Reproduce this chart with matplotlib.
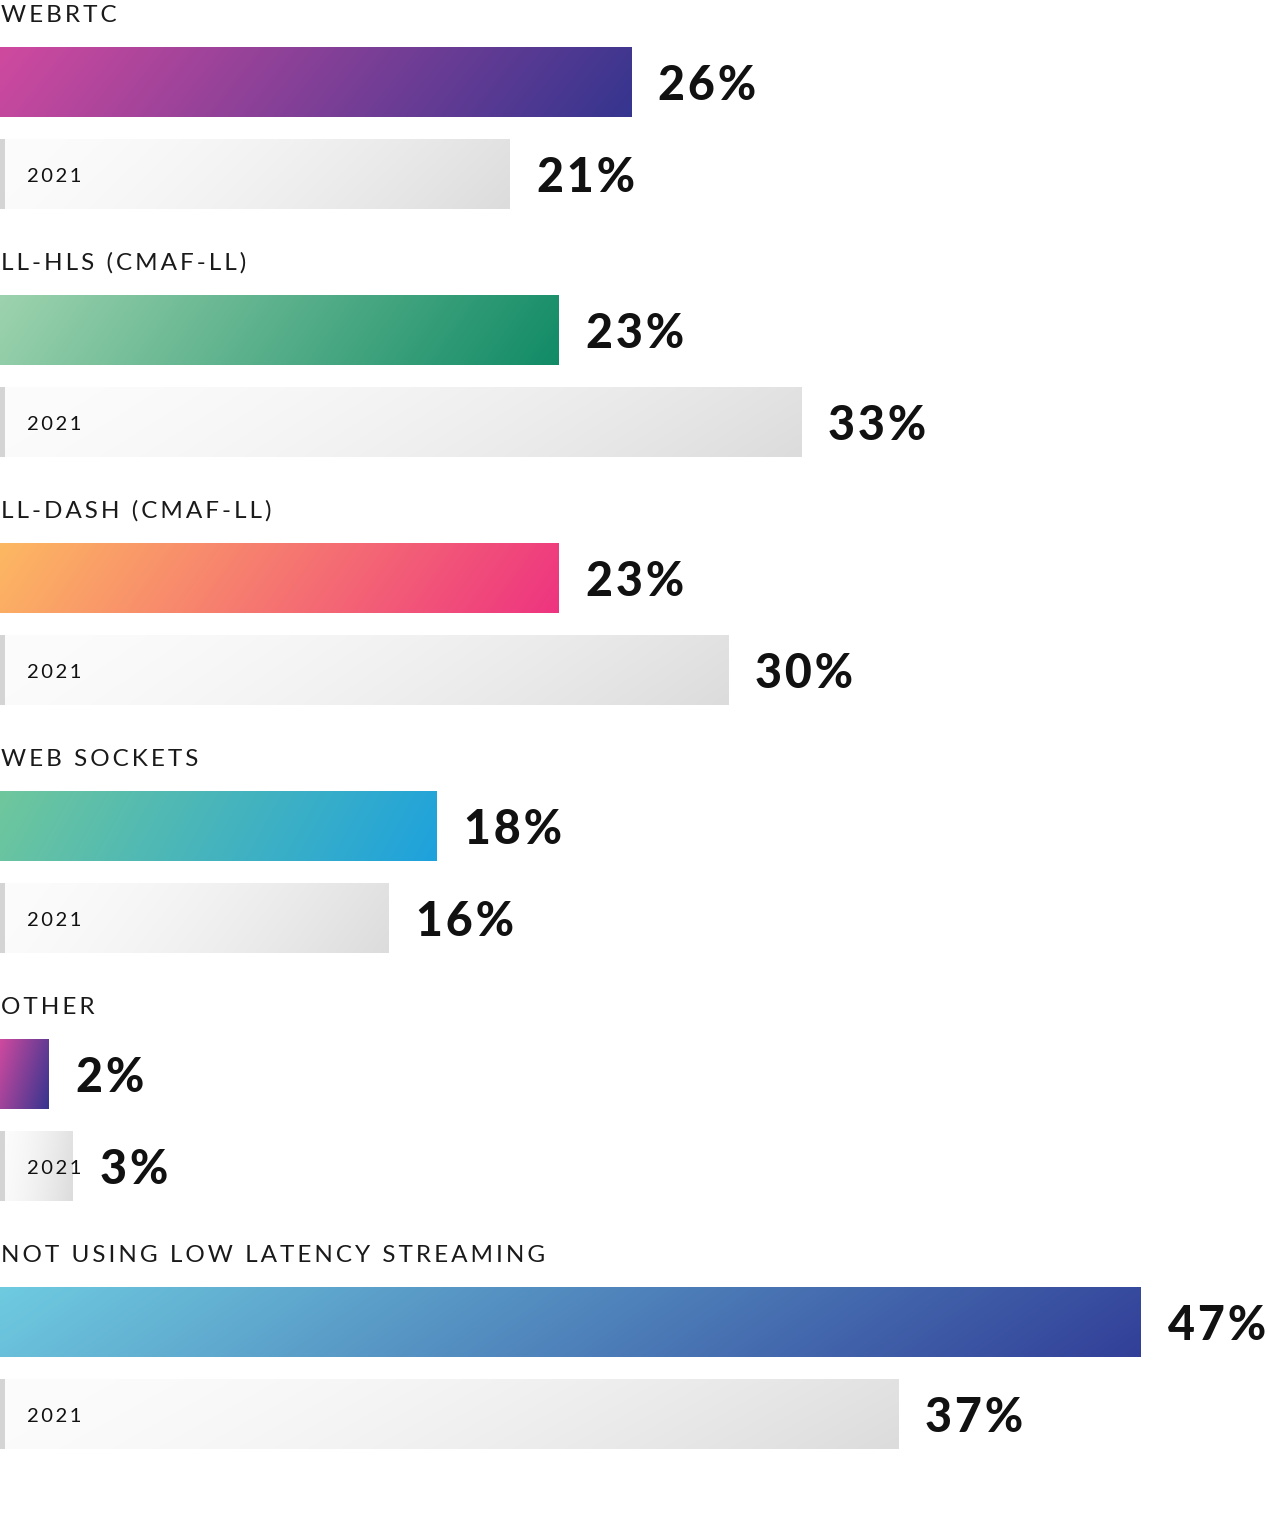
import numpy as np
import matplotlib
matplotlib.use('Agg')
import matplotlib.pyplot as plt
from matplotlib.colors import to_rgb

categories = ['WEBRTC', 'LL-HLS (CMAF-LL)', 'LL-DASH (CMAF-LL)',
              'WEB SOCKETS', 'OTHER', 'NOT USING LOW LATENCY STREAMING']
values_2022 = [26, 23, 23, 18, 2, 47]
values_2021 = [21, 33, 30, 16, 3, 37]
prev_label = '2021'

grad_start = ['#cf4a9f', '#9dd3ae', '#fdb862', '#6fc79c', '#cf4a9f', '#6ecbe0']
grad_end = ['#35358f', '#118b66', '#ee3480', '#1ea2dd', '#35358f', '#323f98']

W, H = 1268, 1536
px_per_pct = 1141 / 47.0
group_h = 248

fig = plt.figure(figsize=(W / 100, H / 100), dpi=100)
ax = fig.add_axes([0, 0, 1, 1])
ax.set_axis_off()

HAIR = '\u200a'
fams = ['Lato', 'DejaVu Sans']


def tracked(s, n=1):
    return (HAIR * n).join(s)


def gradient(c0, c1, ny=40, nx=200, tilt=0.15, gray=False):
    u = np.linspace(0, 1, nx)[None, :]
    v = np.linspace(0, 1, ny)[:, None]
    t = np.clip(u * (1 - tilt) + v * tilt, 0, 1)
    if gray:
        t = t ** 1.6
    a, b = np.array(to_rgb(c0)), np.array(to_rgb(c1))
    img = a[None, None, :] + (b - a)[None, None, :] * t[..., None]
    return img


for i, cat in enumerate(categories):
    g = i * group_h
    ax.text(0.05, g + 15, tracked(cat, 2), fontsize=17.5, family=fams,
            color='#1a1a1a', va='center', ha='left')

    # current year bar
    v1 = values_2022[i]
    img = gradient(grad_start[i], grad_end[i], tilt=0.3 if v1 < 5 else 0.08)
    ax.imshow(img, extent=[0, v1, g + 117, g + 47], aspect='auto',
              interpolation='bicubic', zorder=2)
    ax.text(v1 + 1.12, g + 86, tracked(f'{v1}%'), fontsize=33.5, family=fams,
            fontweight='black', color='#111111', va='center', ha='left')

    # previous year bar
    v0 = values_2021[i]
    img = gradient('#fcfcfc', '#dcdcdc', tilt=0.12, gray=True)
    ax.imshow(img, extent=[0, v0, g + 209, g + 139], aspect='auto',
              interpolation='bicubic', zorder=2)
    ax.barh(g + 174, 0.22, height=70, left=0, color='#d4d4d4', zorder=3)
    ax.text(1.1, g + 176, tracked(prev_label, 2), fontsize=14.5, family=fams,
            color='#111111', va='center', ha='left', zorder=4)
    ax.text(v0 + 1.12, g + 178, tracked(f'{v0}%'), fontsize=33.5, family=fams,
            fontweight='black', color='#111111', va='center', ha='left')

ax.set_xlim(0, W / px_per_pct)
ax.set_ylim(H, 0)

fig.savefig('out.png', dpi=100, facecolor='white')
